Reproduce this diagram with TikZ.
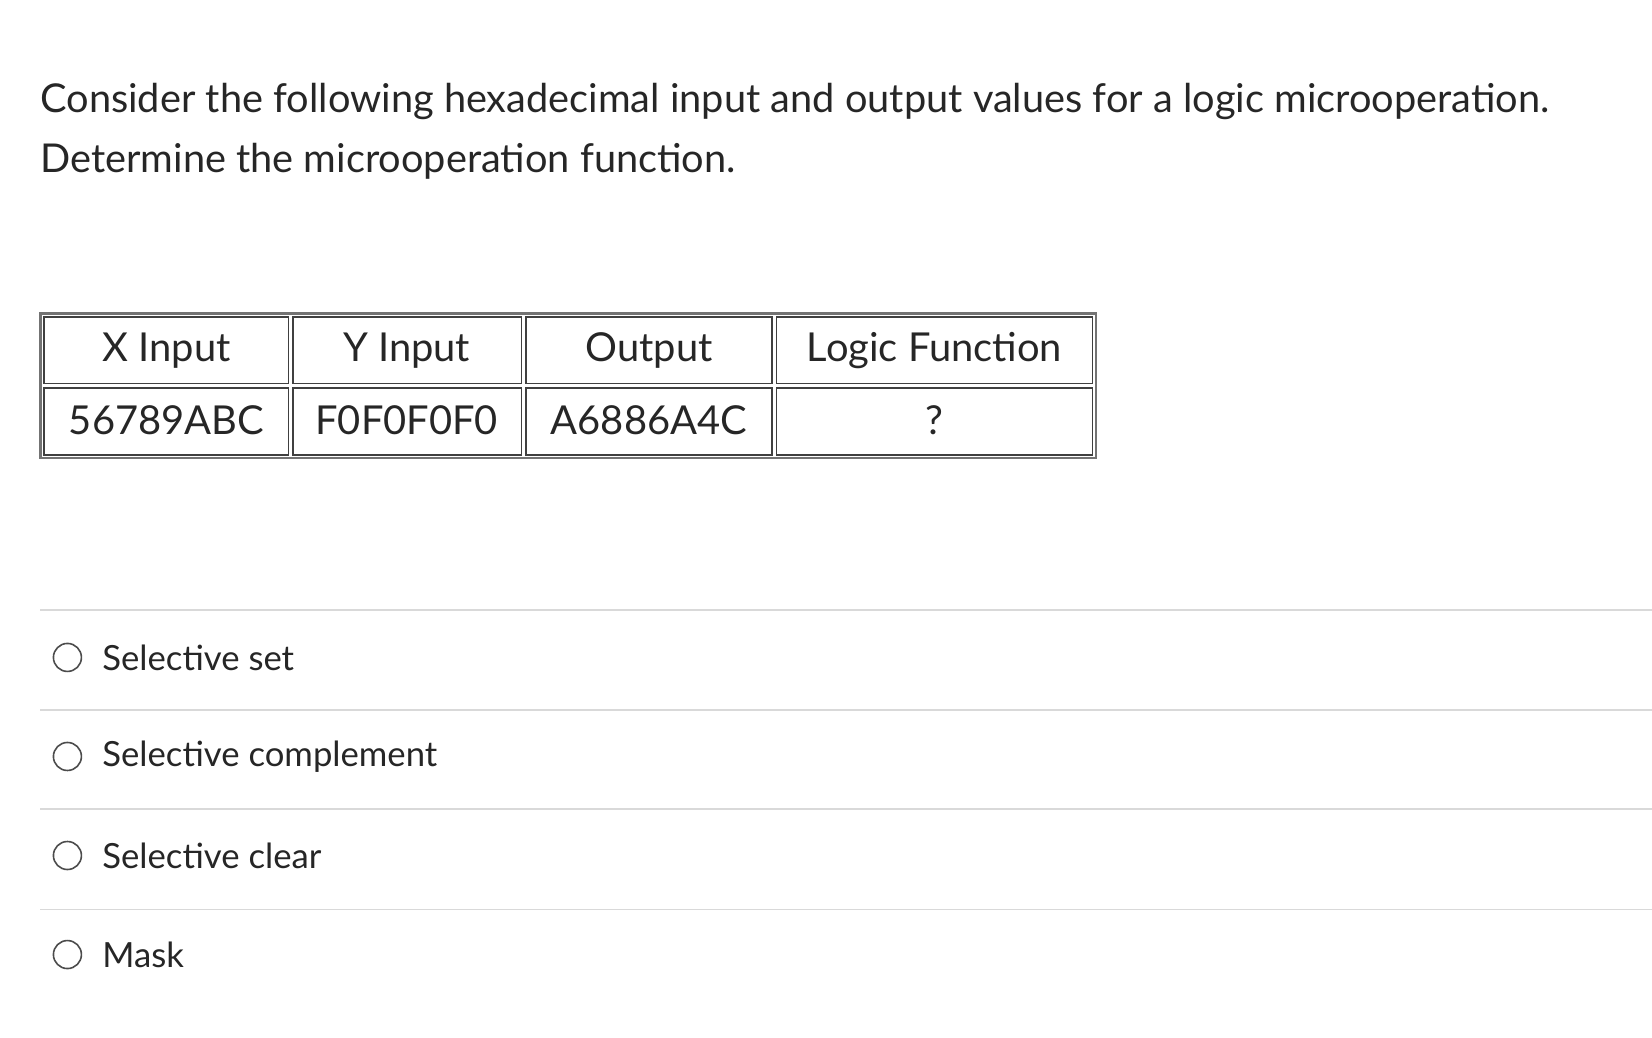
\documentclass[tikz,border=0pt]{standalone}
\usepackage{fontspec}
\setmainfont{Lato}
\begin{document}
\begin{tikzpicture}[x=0.79pt,y=-0.79pt,
  txt/.style={font=\fontsize{29.8}{34}\selectfont,text=black!85,inner sep=0},
  tbl/.style={font=\fontsize{29.9}{34}\selectfont,text=black!85,inner sep=0},
  cell/.style={draw=black!75,line width=1.2pt},
  opt/.style={font=\fontsize{26}{30}\selectfont,text=black!85,anchor=west,inner sep=0},
  radio/.style={circle,draw=black!70,line width=1.2pt,minimum size=21pt,inner sep=0},
  rule/.style={draw=black!15,line width=1pt}]
\useasboundingbox (0,0) rectangle (1568,985);
\node[txt,anchor=base west] (l1) at (38,107) {Consider the following hexadecimal input and output values for a logic microoperation.};
\node[txt,anchor=base west] (l2) at (38,164) {Determine the microoperation function.};
\draw[draw=black!55,line width=1.6pt] (38.5,297.5) rectangle (1040.5,434.5);
\foreach \a/\b [count=\i] in {42/274,278/495,499/733,737/1037}{
  \draw[cell] (\a,301) rectangle (\b,364);
  \draw[cell] (\a,368) rectangle (\b,432);
}
\node[tbl] (h1) at (158,333) {X Input};
\node[tbl] (h2) at (386,333) {Y Input};
\node[tbl] (h3) at (616,333) {Output};
\node[tbl] (h4) at (887,333) {Logic Function};
\node[tbl] (d1) at (158,399) {56789ABC};
\node[tbl] (d2) at (386,399) {F0F0F0F0};
\node[tbl] (d3) at (616,399) {A6886A4C};
\node[tbl] (d4) at (887,399) {?};
\foreach \y in {579,674,768,863} \draw[rule] (38,\y) -- (1568,\y);
\foreach \y/\t [count=\i] in {624/Selective set,718/Selective complement,812/Selective clear,906/Mask}{
  \node[radio] (r\i) at (64,\y) {};
  \node[opt] (o\i) at (97,\y) {\t};
}
\end{tikzpicture}
\end{document}
